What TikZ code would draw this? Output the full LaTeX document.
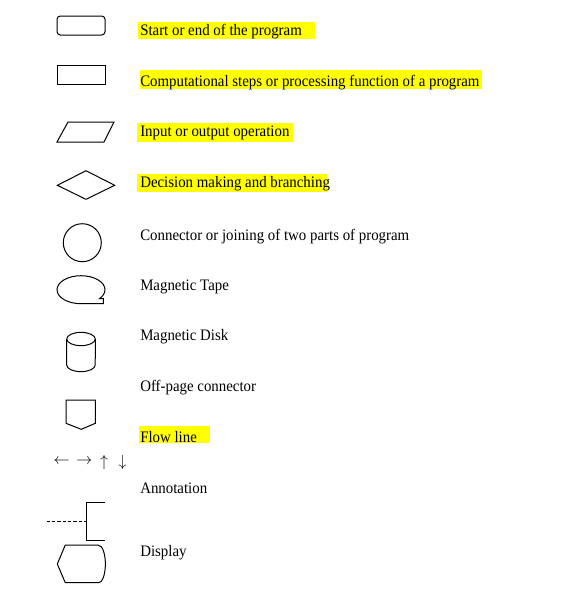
\documentclass[tikz,border=0pt]{standalone}
\usepackage{fontspec}
\setmainfont{Liberation Serif}[FakeStretch=0.93]
\usepackage{tikz}

\begin{document}
\begin{tikzpicture}[x=0.75pt,y=0.75pt,yscale=-1,xscale=1,
  symb/.style={draw=black,line width=0.75pt},
  hl/.style={fill={rgb, 255:red, 255; green, 255; blue, 0 }},
  arw/.style={inner sep=0pt,font=\fontsize{12pt}{14pt}\selectfont},
  lbl/.style={anchor=base west,inner sep=0pt,font=\fontsize{12pt}{14pt}\selectfont}]
\useasboundingbox (0,0) rectangle (571,612);

%Highlights
\fill[hl] (138,22) rectangle (315,39);
\fill[hl] (140,70) rectangle (482,89);
\fill[hl] (137,123) rectangle (293,142);
\fill[hl] (137,174) rectangle (327,192);
\fill[hl] (139,426) rectangle (210,443);

%Shape: Rounded Rect
\draw [symb,rounded corners=2.5pt] (57,16) rectangle (105,35) ;
%Shape: Rectangle
\draw [symb] (57,65) rectangle (105,84) ;
%Shape: Parallelogram
\draw [symb] (68,122) -- (114,122) -- (104,142) -- (57,142) -- cycle ;
%Shape: Diamond
\draw [symb] (57.3,185.3) -- (86,170.7) -- (114.7,185.3) -- (86,199.3) -- cycle ;
%Shape: Circle
\draw [symb] (82.3,242.7) circle [radius=14.25pt] ;
%Shape: Tape
\draw [symb] (81,303.7) arc [start angle=90, end angle=400, x radius=18pt, y radius=10.5pt] -- (103.3,298.7) -- (103.3,303.7) -- cycle ;
%Shape: Cylinder
\draw [symb] (81,339) ellipse [x radius=10.7pt, y radius=5pt] ;
\draw [symb] (66.7,339) -- (66.7,365) arc [start angle=180, end angle=0, x radius=10.7pt, y radius=5pt] -- (95.3,339) ;
%Shape: Off-page
\draw [symb] (66,400) -- (95.3,400) -- (95.3,423.3) -- (81.3,429.3) -- (66,423.3) -- cycle ;
%Shape: Annotation
\draw [symb,dash pattern={on 2.5pt off 1.5pt}] (46.7,521) -- (86,521) ;
\draw [symb] (105.3,502.3) -- (86,502.3) -- (86,540.7) -- (105.3,540.7) ;
%Shape: Display
\draw [symb] (98.7,545) -- (65.3,545) -- (57.3,564) -- (65.3,582.7) -- (98.7,582.7) arc [start angle=90, end angle=-90, x radius=5pt, y radius=14pt] ;

% Flow line arrows
\node [arw] (left) at (61.5,462) {$\leftarrow$};
\node [arw] (right) at (84.5,462) {$\rightarrow$};
\node [arw] (up) at (104,462) {$\uparrow$};
\node [arw] (down) at (122.7,462) {$\downarrow$};

% Text Node
\node [lbl] (terminal) at (140,35.3) {Start or end of the program};
% Text Node
\node [lbl] (process) at (140,86) {Computational steps or processing function of a program};
% Text Node
\node [lbl] (inout) at (140,136.7) {Input or output operation};
% Text Node
\node [lbl] (decision) at (140,187.8) {Decision making and branching};
% Text Node
\node [lbl] (connector) at (140,240) {Connector or joining of two parts of program};
% Text Node
\node [lbl] (tape) at (140,290.5) {Magnetic Tape};
% Text Node
\node [lbl] (disk) at (140,340.5) {Magnetic Disk};
% Text Node
\node [lbl] (offpage) at (140,391.7) {Off-page connector};
% Text Node
\node [lbl] (flow) at (140,442) {Flow line};
% Text Node
\node [lbl] (annot) at (140,493.3) {Annotation};
% Text Node
\node [lbl] (display) at (140,556.7) {Display};

\end{tikzpicture}
\end{document}
